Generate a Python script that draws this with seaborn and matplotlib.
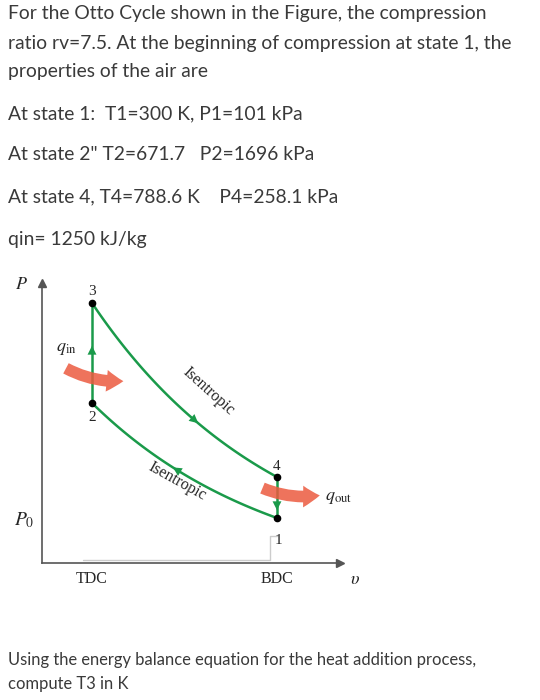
import numpy as np
import seaborn as sns
import matplotlib.pyplot as plt

sns.set_theme(style="white")
plt.rcParams['font.family'] = ['Lato', 'DejaVu Sans']
plt.rcParams['mathtext.fontset'] = 'stix'

# problem text
lines_top = [
    "For the Otto Cycle shown in the Figure, the compression",
    "ratio rv=7.5. At the beginning of compression at state 1, the",
    "properties of the air are",
]
state_lines = [
    "At state 1:  T1=300 K, P1=101 kPa",
    "At state 2\" T2=671.7   P2=1696 kPa",
    "At state 4, T4=788.6 K    P4=258.1 kPa",
    "qin= 1250 kJ/kg",
]
lines_bottom = [
    "Using the energy balance equation for the heat addition process,",
    "compute T3 in K",
]

# schematic diagram values (v in units of v2, P in diagram units)
v_tdc, v_bdc = 1.0, 7.5
p_states = {"1": 45, "2": 160, "3": 260, "4": 86}
p0 = 45
green = "#1a9a4a"
serif = "Liberation Serif"

fig = plt.figure(figsize=(5.4, 7.0), dpi=100)
W, H = 540, 700
txt = dict(fontsize=13.9, color="#3a3a3a", va="center", ha="left")
for i, s in enumerate(lines_top):
    fig.text(8 / W, 1 - (14 + 29 * i) / H, s, **txt)
for s, y in zip(state_lines, [114, 155, 197, 239]):
    fig.text(8 / W, 1 - y / H, s, **txt)
for i, s in enumerate(lines_bottom):
    fig.text(8 / W, 1 - (660 + 24 * i) / H, s, fontsize=11.9, color="#3a3a3a", va="center", ha="left")

# diagram axes: pixel box x 42..340, y 283..563
ax = fig.add_axes([42 / W, 1 - 563 / H, (340 - 42) / W, (563 - 283) / H])
sc = (277 - 92) / (v_bdc - v_tdc)
ax.set_xlim(v_tdc - 50 / sc, v_bdc + 63 / sc)
ax.set_ylim(0, 280)
for s in ["top", "right"]:
    ax.spines[s].set_visible(False)
for s in ["left", "bottom"]:
    ax.spines[s].set_color("#555555")
    ax.spines[s].set_linewidth(1.2)
ax.set_xticks([v_tdc, v_bdc])
ax.set_xticklabels(["TDC", "BDC"], family=serif, fontsize=11.5)
ax.set_yticks([p0])
ax.set_yticklabels(["$P_0$"], fontsize=14)
ax.tick_params(length=4, color="#555555", direction="inout")
ax.plot(1, 0, ">", color="#555555", transform=ax.transAxes, clip_on=False, ms=6)
ax.plot(0, 1, "^", color="#555555", transform=ax.transAxes, clip_on=False, ms=6)
ax.text(-0.07, 0.98, "$P$", transform=ax.transAxes, fontsize=13, ha="center")
ax.text(1.05, -0.075, "$\\upsilon$", transform=ax.transAxes, fontsize=13, ha="center")

# process curves (schematic: mild convex sag between end states)
def isen(pa, pb, a=1.0):
    v = np.linspace(v_tdc, v_bdc, 100)
    t = (v - v_tdc) / (v_bdc - v_tdc)
    f = (np.exp(-a * t) - np.exp(-a)) / (1 - np.exp(-a))
    return v, pb + (pa - pb) * f

v34, p34 = isen(p_states["3"], p_states["4"])
v21, p21 = isen(p_states["2"], p_states["1"])
sns.lineplot(x=v34, y=p34, ax=ax, color=green, lw=1.8, sort=False)
sns.lineplot(x=v21, y=p21, ax=ax, color=green, lw=1.8, sort=False)
ax.plot([v_tdc, v_tdc], [p_states["2"], p_states["3"]], color=green, lw=1.8)
ax.plot([v_bdc, v_bdc], [p_states["1"], p_states["4"]], color=green, lw=1.8)
pts = {"1": v_bdc, "2": v_tdc, "3": v_tdc, "4": v_bdc}
for k, vv in pts.items():
    ax.plot(vv, p_states[k], "o", color="black", ms=4.5, zorder=5)
ax.text(v_tdc, p_states["3"] + 8, "3", ha="center", fontsize=11, family=serif)
ax.text(v_tdc, p_states["2"] - 18, "2", ha="center", fontsize=11, family=serif)
ax.text(v_bdc, p_states["4"] + 7, "4", ha="center", fontsize=11, family=serif)
ax.text(v_bdc + 0.05, p_states["1"] - 26, "1", ha="center", fontsize=11, family=serif)
ax.plot([v_tdc - 0.3, v_bdc - 0.25, v_bdc - 0.25, v_bdc], [3, 3, 27, 27], color="#cccccc", lw=1)

# direction arrows
arr = dict(arrowstyle="-|>", color=green, lw=0, mutation_scale=16)
ax.annotate("", (v_tdc, 220), (v_tdc, 205), arrowprops=arr)
ax.annotate("", (v_bdc, 50), (v_bdc, 65), arrowprops=arr)
ax.annotate("", (v34[58], p34[58]), (v34[52], p34[52]), arrowprops=arr)
ax.annotate("", (v21[42], p21[42]), (v21[48], p21[48]), arrowprops=arr)
ax.text(5.1, 172, "Isentropic", rotation=-42, fontsize=11.5, family=serif, ha="center", va="center")
ax.text(4.0, 82, "Isentropic", rotation=-29, fontsize=11.5, family=serif, ha="center", va="center")

# heat arrows
heat = dict(arrowstyle="simple,head_width=1.3,head_length=1.0,tail_width=0.7",
            color="#ec5a3f", lw=0, alpha=0.85)
ax.annotate("", (2.2, 182), (0.0, 196), arrowprops=dict(connectionstyle="arc3,rad=0.15", **heat))
ax.annotate("", (9.1, 68), (6.9, 76), arrowprops=dict(connectionstyle="arc3,rad=0.15", **heat))
ax.text(-0.25, 212, "$q_{\\mathrm{in}}$", fontsize=13)
ax.text(9.2, 63, "$q_{\\mathrm{out}}$", fontsize=13)

fig.savefig("out.png", dpi=100)
